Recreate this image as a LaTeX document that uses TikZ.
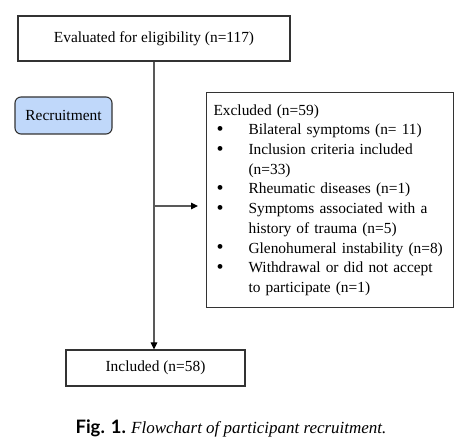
\documentclass[tikz,border=0pt]{standalone}
\usepackage{fontspec}
\setmainfont{Liberation Serif}
\newfontfamily\figfont{Lato}
\usepackage{xcolor}
\usetikzlibrary{arrows.meta,positioning}
\definecolor{recruitblue}{RGB}{192,216,250}
\newcommand{\bul}{\makebox[35pt][l]{\hspace*{3pt}\raisebox{-0.5pt}{\scalebox{1.3}{\textbullet}}}}
\newcommand{\cont}{\hspace*{35pt}}

\begin{document}
\begin{tikzpicture}[x=1pt, y=-1pt, >={Triangle[length=7pt,width=6.5pt,black]},
    every node/.style={font=\fontsize{15.4}{19.7}\selectfont},
    flowbox/.style={draw=black!80, line width=1.1pt, align=center, inner sep=0pt},
    line/.style={black!65, line width=1.1pt}]
    \useasboundingbox (0,0) rectangle (474,446);

    \node (eval) [flowbox, minimum width=272pt, minimum height=45pt] at (154,38.5) {Evaluated for eligibility (n=117)};
    \node (recruit) [flowbox, rounded corners=6pt, fill=recruitblue, minimum width=97pt, minimum height=37pt] at (63.5,115.5) {Recruitment};
    \node (excl) [flowbox, align=left, anchor=north west, text width=233pt, minimum height=215pt, inner xsep=7pt] at (206,92) {%
        Excluded (n=59)\\
        \bul Bilateral symptoms (n= 11)\\
        \bul Inclusion criteria included\\
        \cont (n=33)\\
        \bul Rheumatic diseases (n=1)\\
        \bul Symptoms associated with a\\
        \cont history of trauma (n=5)\\
        \bul Glenohumeral instability (n=8)\\
        \bul Withdrawal or did not accept\\
        \cont to participate (n=1)};
    \node (incl) [flowbox, minimum width=179pt, minimum height=36pt] at (155.5,368) {Included (n=58)};
    \node (caption) at (231,428) {{\figfont\bfseries\fontsize{18.5}{20}\selectfont Fig. 1.} \textit{\fontsize{17}{20}\selectfont Flowchart of participant recruitment.}};

    \coordinate (split) at (154,206);
    \draw [->, line] (eval.south) -- (eval.south |- incl.north);
    \draw [->, line, shorten >=8pt] (split) -- (split -| excl.west);
\end{tikzpicture}
\end{document}
